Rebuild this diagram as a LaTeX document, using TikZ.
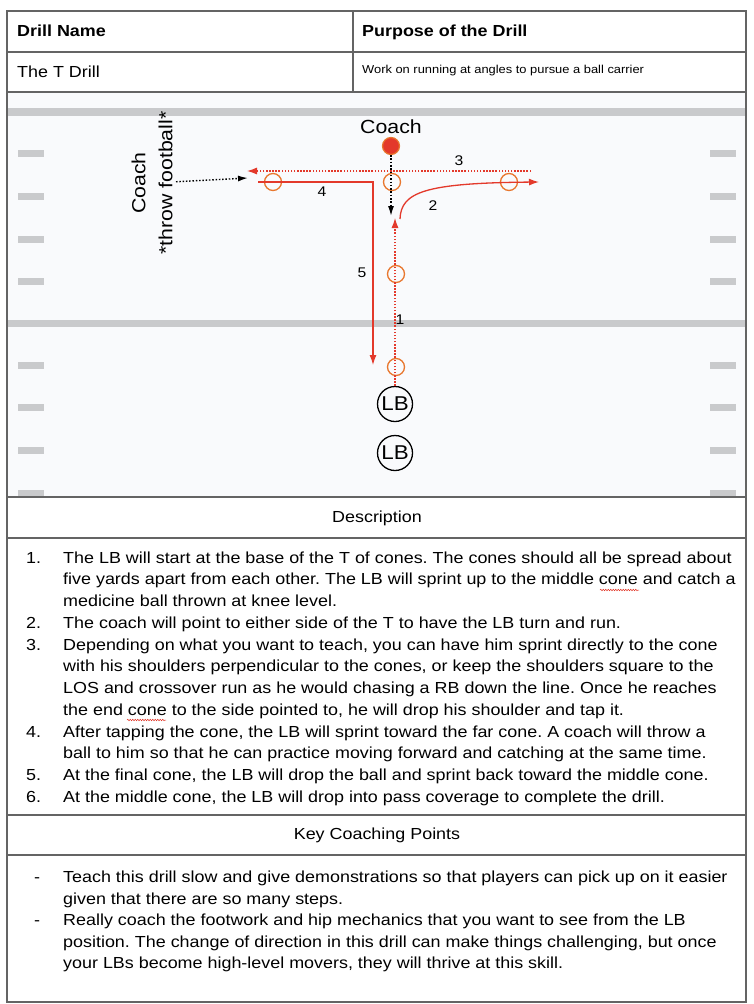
\documentclass[tikz,border=0pt]{standalone}
\usepackage{fontspec}
\setmainfont{Liberation Sans}[FakeStretch=1.12]
\usetikzlibrary{arrows.meta,decorations.pathmorphing}
\definecolor{DrillRed}{HTML}{E3392B}
\definecolor{ConeOrange}{HTML}{E8772E}
\definecolor{FieldGray}{HTML}{C9CACC}
\definecolor{FieldBg}{HTML}{F9FAFC}
\definecolor{RuleGray}{HTML}{646464}
\frenchspacing

\begin{document}
\begin{tikzpicture}[
  x=1pt,y=-1pt,>=Latex,
  rule/.style={draw=RuleGray,line width=1.3pt},
  hash/.style={fill=FieldGray,draw=none},
  cone/.style={circle,draw=ConeOrange,line width=1.3pt,minimum size=17pt,inner sep=0pt},
  player/.style={circle,draw=black,line width=1.3pt,minimum size=35pt,inner sep=0pt,font=\fontsize{20}{22}\selectfont},
  route/.style={draw=DrillRed,line width=1.3pt,-{Latex[length=10pt,width=7pt]}},
  dotroute/.style={route,line width=1.1pt,dash pattern=on 1.5pt off 1.6pt},
  throw/.style={draw=black,line width=1.4pt,dash pattern=on 1.5pt off 1.8pt,-{Latex[length=10pt,width=6pt]}},
  numlbl/.style={font=\fontsize{14}{16}\selectfont,inner sep=1pt},
  head/.style={anchor=base west,font=\bfseries\fontsize{16}{18}\selectfont,inner sep=0pt},
  body/.style={anchor=base west,font=\fontsize{16}{18}\selectfont,inner sep=0pt},
  spell/.style={draw=DrillRed,line width=0.5pt,decorate,decoration={snake,segment length=2.5pt,amplitude=0.8pt}}
]
\useasboundingbox (0,0) rectangle (754,1004);
\fill[white] (0,0) rectangle (754,1004);

% Field.
\fill[FieldBg] (7,92) rectangle (746,497);
\fill[FieldGray] (7,108) rectangle (746,116);
\fill[FieldGray] (7,320) rectangle (746,327);
\foreach \y in {153,196,239,281,365,407,450,493}{
  \fill[hash] (18,\y-3.5) rectangle (44,\y+3.5);
  \fill[hash] (710,\y-3.5) rectangle (736,\y+3.5);
}

% Table.
\draw[rule] (7,11) rectangle (746,1002);
\foreach \y in {52,92,497,538,815,855}
  \draw[rule] (7,\y) -- (746,\y);
\draw[rule] (353,11) -- (353,92);

\node[head] (hname) at (17,36.5) {Drill Name};
\node[head] (hpurp) at (362,36.5) {Purpose of the Drill};
\node[body] (dname) at (17,77) {The T Drill};
\node[body,font=\fontsize{11.5}{13}\selectfont] (dpurp) at (362,73.5) {Work on running at angles to pursue a ball carrier};

% Cones and players.
\node[font=\fontsize{19}{21}\selectfont] (coachlbl) at (391,127) {Coach};
\node[circle,fill=DrillRed,draw=ConeOrange,line width=1.2pt,minimum size=17pt,inner sep=0pt] (coach) at (391,146) {};
\node[cone] (cL) at (273,182) {};
\node[cone] (cM) at (392,182) {};
\node[cone] (cR) at (509,182) {};
\node[cone] (cU) at (396,274) {};
\node[cone] (cD) at (396,367) {};
\node[player] (lb1) at (395,404) {LB};
\node[player] (lb2) at (395,453) {LB};
\node[rotate=90,align=center,font=\fontsize{19}{27}\selectfont] (thrower) at (152,183) {Coach\\*throw football*};

\coordinate (tip1) at (395,218);
\coordinate (s2) at (400,219);
\coordinate (tip2) at (539,182);
\coordinate (s3) at (531,171);
\coordinate (tip3) at (247,171);
\coordinate (s4) at (258,182);
\coordinate (bend4) at (373,182);
\coordinate (tip5) at (373,365);
\coordinate (tipc) at (391,216);
\coordinate (tipt) at (248,178);

\draw[dotroute] (lb1) -- (tip1);
\draw[route] (s2) .. controls (401,192) and (425,183) .. (tip2);
\draw[dotroute] (s3) -- (tip3);
\draw[route] (s4) -- (bend4) -- (tip5);
\draw[throw] (coach) -- (tipc);
\draw[throw] (thrower) -- (tipt);

\node[numlbl] (n1) at (400,320) {1};
\node[numlbl] (n2) at (433,206) {2};
\node[numlbl] (n3) at (459,161) {3};
\node[numlbl] (n4) at (322,192) {4};
\node[numlbl] (n5) at (362,273) {5};

% Description.
\node[font=\fontsize{16}{18}\selectfont] (deschd) at (377,518) {Description};
\foreach \n/\y [count=\i] in {1./563,2./628.25,3./650,4./737,5./780.5,6./802.25}
  \node[body] (num\i) at (26,\y) {\n};
\foreach \t [count=\i] in {
  The LB will start at the base of the T of cones. The cones should all be spread about,
  five yards apart from each other. The LB will sprint up to the middle cone and catch a,
  medicine ball thrown at knee level.,
  The coach will point to either side of the T to have the LB turn and run.,
  {Depending on what you want to teach, you can have him sprint directly to the cone},
  {with his shoulders perpendicular to the cones, or keep the shoulders square to the},
  LOS and crossover run as he would chasing a RB down the line. Once he reaches,
  {the end cone to the side pointed to, he will drop his shoulder and tap it.},
  {After tapping the cone, the LB will sprint toward the far cone. A coach will throw a},
  ball to him so that he can practice moving forward and catching at the same time.,
  {At the final cone, the LB will drop the ball and sprint back toward the middle cone.},
  {At the middle cone, the LB will drop into pass coverage to complete the drill.}}
  \node[body] (dl\i) at (63,{563+21.75*(\i-1)}) {\t};
\draw[spell] (600,590) -- (639,590);
\draw[spell] (127,720) -- (166,720);

% Key coaching points.
\node[font=\fontsize{16}{18}\selectfont] (keyhd) at (377,835) {Key Coaching Points};
\node[body] (bul1) at (34,882.5) {-};
\node[body] (bul2) at (34,925.5) {-};
\foreach \t [count=\i] in {
  Teach this drill slow and give demonstrations so that players can pick up on it easier,
  given that there are so many steps.,
  Really coach the footwork and hip mechanics that you want to see from the LB,
  {position. The change of direction in this drill can make things challenging, but once},
  {your LBs become high-level movers, they will thrive at this skill.}}
  \node[body] (kl\i) at (63,{882.5+21.5*(\i-1)}) {\t};
\end{tikzpicture}
\end{document}
